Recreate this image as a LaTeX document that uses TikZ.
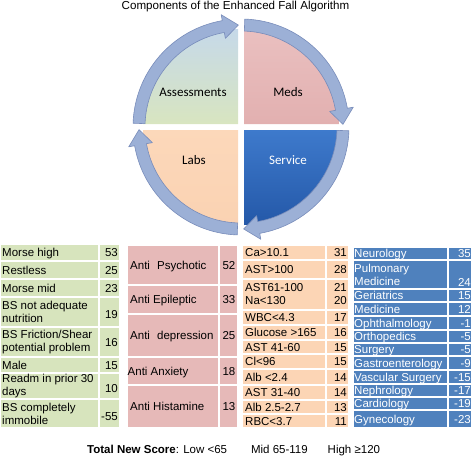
\documentclass[tikz,border=0pt]{standalone}
\usepackage{fontspec}
\setmainfont{Liberation Sans}
\newfontfamily\calib{Carlito}
\newcommand\tblfont{\fontsize{11.5}{13}\selectfont}
\definecolor{tgreen}{RGB}{215,228,189}
\definecolor{tpink}{RGB}{230,185,184}
\definecolor{torange}{RGB}{252,213,181}
\definecolor{tblue}{RGB}{79,129,189}
\definecolor{asTop}{RGB}{198,217,233}
\definecolor{asBot}{RGB}{216,229,192}
\definecolor{mdTop}{RGB}{234,192,192}
\definecolor{mdBot}{RGB}{226,176,176}
\definecolor{lbTop}{RGB}{252,216,186}
\definecolor{lbBot}{RGB}{250,210,178}
\definecolor{svTop}{RGB}{62,122,204}
\definecolor{svBot}{RGB}{36,88,168}
\definecolor{ringfill}{RGB}{156,176,214}
\definecolor{ringline}{RGB}{120,140,186}
\begin{document}
\begin{tikzpicture}[x=1pt,y=1pt,
  gcell/.style={fill=tgreen,draw=white,line width=1.6pt},
  pcell/.style={fill=tpink,draw=white,line width=1.6pt},
  ocell/.style={fill=torange,draw=white,line width=1.6pt},
  bcell/.style={fill=tblue,draw=white,line width=1.6pt},
  lbl/.style={anchor=west,inner sep=0pt,text height=8.2pt,text depth=0pt,font=\tblfont},
  lbltwo/.style={anchor=west,inner sep=0pt,align=left,font=\tblfont},
  num/.style={anchor=east,inner sep=0pt,text height=8.2pt,text depth=0pt,font=\tblfont},
  numtwo/.style={anchor=east,inner sep=0pt,align=right,font=\tblfont},
  qlbl/.style={inner sep=0pt,font=\calib\fontsize{13}{15}\selectfont},
  arrowring/.style={fill=ringfill,draw=ringline,line width=0.6pt,line join=round}]
\useasboundingbox (0,0) rectangle (474,-458);

% title
\node[anchor=base,inner sep=0pt,font=\fontsize{11.6}{13}\selectfont] (title) at (235.5,-9.5) {Components of the Enhanced Fall Algorithm};

% cycle matrix
\begin{scope}[shift={(241,-127)}]
  \shade[top color=asTop,bottom color=asBot] (-3,3) -- (-98,3) arc[start angle=180,end angle=90,radius=95] -- cycle;
  \shade[top color=mdTop,bottom color=mdBot] (3,3) -- (3,98) arc[start angle=90,end angle=0,radius=95] -- cycle;
  \shade[top color=svTop,bottom color=svBot] (3,-3) -- (98,-3) arc[start angle=0,end angle=-90,radius=95] -- cycle;
  \shade[top color=lbTop,bottom color=lbBot] (-3,-3) -- (-3,-98) arc[start angle=270,end angle=180,radius=95] -- cycle;
  \foreach \s in {178,88,-2,-92}{
    \pgfmathsetmacro\hb{\s-78}
    \pgfmathsetmacro\tp{\s-86.5}
    \path[arrowring] (\s:96) arc[start angle=\s,end angle=\hb,radius=96] -- (\hb:90) -- (\tp:102) -- (\hb:114) -- (\hb:108) arc[start angle=\hb,end angle=\s,radius=108] -- cycle;
  }
\end{scope}
\node[qlbl] (assess) at (193,-92) {Assessments};
\node[qlbl] (meds) at (288,-92) {Meds};
\node[qlbl] (labs) at (194,-160) {Labs};
\node[qlbl,text=white] (serv) at (288,-160) {Service};

% green table
\foreach \a/\b in {-244/-261,-261/-279,-279/-297,-297/-327,-327/-357,-357/-373,-373/-399,-399/-428}{
  \path[gcell] (0,\a) rectangle (99,\b);
  \path[gcell] (99,\a) rectangle (120,\b);
}
\node[lbl] (g1) at (2,-252.5) {Morse high};
\node[lbl] (g2) at (2,-270) {Restless};
\node[lbl] (g3) at (2,-288) {Morse mid};
\node[lbltwo] (g4) at (2,-312) {BS not adequate\\nutrition};
\node[lbltwo] (g5) at (2,-342) {BS Friction/Shear\\potential problem};
\node[lbl] (g6) at (2,-365) {Male};
\node[lbltwo] (g7) at (2,-386) {Readm in prior 30\\days};
\node[lbltwo] (g8) at (2,-413.5) {BS completely\\immobile};
\node[num] (g1n) at (118,-252.5) {53};
\node[num] (g2n) at (118,-270) {25};
\node[num] (g3n) at (118,-288) {23};
\node[num] (g4n) at (118,-314) {19};
\node[num] (g5n) at (118,-342) {16};
\node[num] (g6n) at (118,-365) {15};
\node[num] (g7n) at (118,-388) {10};
\node[num] (g8n) at (118,-416) {-55};

% pink table
\foreach \a/\b in {-245/-285,-285/-314,-314/-357,-357/-385,-385/-428}{
  \path[pcell] (127,\a) rectangle (219,\b);
  \path[pcell] (219,\a) rectangle (238,\b);
}
\node[lbl] (p1) at (130,-265) {Anti\hspace{4pt} Psychotic};
\node[lbl] (p2) at (130,-299.5) {Anti Epileptic};
\node[lbl] (p3) at (130,-335.5) {Anti\hspace{4pt} depression};
\node[lbl] (p4) at (127.5,-371) {Anti Anxiety};
\node[lbl] (p5) at (130,-406.5) {Anti Histamine};
\node[num] (p1n) at (235.5,-265) {52};
\node[num] (p2n) at (235.5,-299.5) {33};
\node[num] (p3n) at (235.5,-335.5) {25};
\node[num] (p4n) at (235.5,-371) {18};
\node[num] (p5n) at (235.5,-406.5) {13};

% orange table
\foreach \a/\b in {-245/-260,-260/-279,-279/-310,-310/-325,-325/-340,-340/-354,-354/-369,-369/-385,-385/-400,-400/-414,-414/-428}{
  \path[ocell] (242,\a) rectangle (326,\b);
  \path[ocell] (326,\a) rectangle (349,\b);
}
\node[lbl] (o1) at (245,-252.5) {Ca>10.1};
\node[lbl] (o2) at (245,-269.5) {AST>100};
\node[lbltwo] (o3) at (245,-294.5) {AST61-100\\Na<130};
\node[lbl] (o4) at (245,-317.5) {WBC<4.3};
\node[lbl] (o5) at (245,-332.5) {Glucose >165};
\node[lbl] (o6) at (245,-347) {AST 41-60};
\node[lbl] (o7) at (245,-361.5) {Cl<96};
\node[lbl] (o8) at (245,-377) {Alb <2.4};
\node[lbl] (o9) at (245,-392.5) {AST 31-40};
\node[lbl] (o10) at (245,-407) {Alb 2.5-2.7};
\node[lbl] (o11) at (245,-421) {RBC<3.7};
\node[num] (o1n) at (347,-252.5) {31};
\node[num] (o2n) at (347,-269.5) {28};
\node[numtwo] (o3n) at (347,-294.5) {21\\20};
\node[num] (o4n) at (347,-317.5) {17};
\node[num] (o5n) at (347,-332.5) {16};
\node[num] (o6n) at (347,-347) {15};
\node[num] (o7n) at (347,-361.5) {15};
\node[num] (o8n) at (347,-377) {14};
\node[num] (o9n) at (347,-392.5) {14};
\node[num] (o10n) at (347,-407) {13};
\node[num] (o11n) at (347,-421) {11};

% blue table
\foreach \a/\b in {-247/-260,-260/-289,-289/-302,-302/-316,-316/-330,-330/-343,-343/-356,-356/-370,-370/-384,-384/-397,-397/-410,-410/-428}{
  \path[bcell] (353,\a) rectangle (448,\b);
  \path[bcell] (448,\a) rectangle (472,\b);
}
\begin{scope}[every node/.append style={text=white}]
\node[lbl] (b1) at (354,-253.5) {Neurology};
\node[lbltwo] (b2) at (354,-274.5) {Pulmonary\\Medicine};
\node[lbl] (b3) at (354,-295.5) {Geriatrics};
\node[lbl] (b4) at (354,-309) {Medicine};
\node[lbl] (b5) at (354,-323) {Ophthalmology};
\node[lbl] (b6) at (354,-336.5) {Orthopedics};
\node[lbl] (b7) at (354,-349.5) {Surgery};
\node[lbl] (b8) at (354,-363) {Gastroenterology};
\node[lbl] (b9) at (354,-377) {Vascular Surgery};
\node[lbl] (b10) at (354,-390.5) {Nephrology};
\node[lbl] (b11) at (354,-403.5) {Cardiology};
\node[lbl] (b12) at (354,-419) {Gynecology};
\node[num] (b1n) at (471,-253.5) {35};
\node[num] (b2n) at (471,-282) {24};
\node[num] (b3n) at (471,-295.5) {15};
\node[num] (b4n) at (471,-309) {12};
\node[num] (b5n) at (471,-323) {-1};
\node[num] (b6n) at (471,-336.5) {-5};
\node[num] (b7n) at (471,-349.5) {-5};
\node[num] (b8n) at (471,-363) {-9};
\node[num] (b9n) at (471,-377) {-15};
\node[num] (b10n) at (471,-390.5) {-17};
\node[num] (b11n) at (471,-403.5) {-19};
\node[num] (b12n) at (471,-419) {-23};
\end{scope}

% total score line
\node[anchor=base west,inner sep=0pt,font=\tblfont] (total) at (87,-453) {\textbf{Total New Score}: Low <65\hspace{24pt}Mid 65-119\hspace{20pt}High ≥120};
\end{tikzpicture}
\end{document}
